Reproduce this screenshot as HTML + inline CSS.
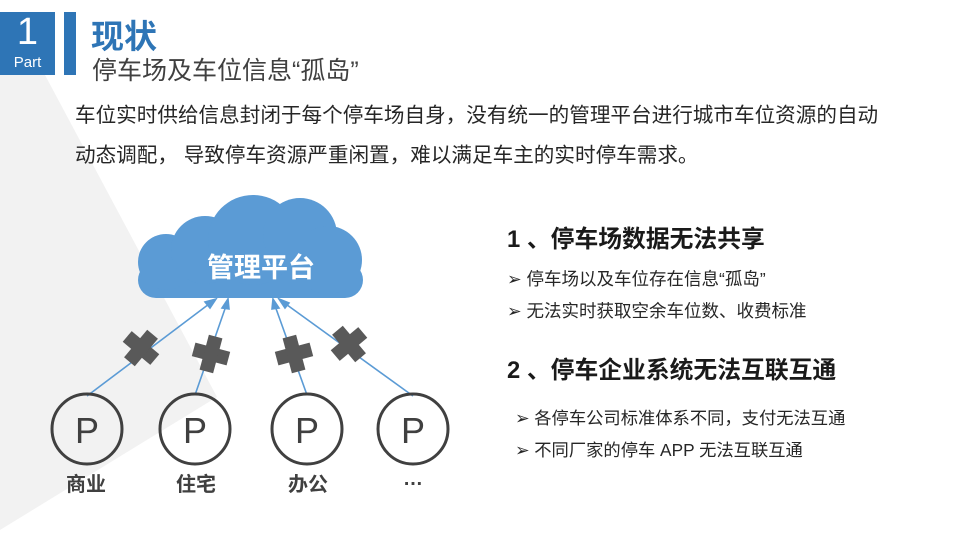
<!DOCTYPE html>
<html><head><meta charset="utf-8"><style>
body{margin:0}
#c{position:relative;width:960px;height:540px;overflow:hidden;background:#fff;font-family:"Liberation Sans","Noto Sans CJK SC",sans-serif;color:#262626}
.t{position:absolute;white-space:nowrap}
</style></head><body><div id="c">
<svg width="960" height="540" style="position:absolute;left:0;top:0">
<polygon points="0,70 45,75 217,397 0,530" fill="#f2f2f2"/>
<rect x="0" y="12" width="55" height="63" fill="#2e75b6"/>
<rect x="64" y="12" width="12" height="63" fill="#2e75b6"/>
<g fill="#5b9bd5">
<rect x="138" y="262" width="225" height="36" rx="18"/>
<circle cx="166" cy="262" r="28"/>
<circle cx="205" cy="250" r="34"/>
<circle cx="253" cy="240" r="45"/>
<circle cx="300" cy="235" r="37"/>
<circle cx="328" cy="260" r="34"/>
</g>
<g stroke="#5b9bd5" stroke-width="1.6" fill="#5b9bd5">
<line x1="87" y1="396" x2="213" y2="301"/><polygon points="216,299 205,302 210,308"/>
<line x1="195" y1="395" x2="227" y2="303"/><polygon points="228,299 222,308 229,309"/>
<line x1="307" y1="395" x2="274" y2="303"/><polygon points="273,299 272,309 279,308"/>
<line x1="413" y1="396" x2="283" y2="302"/><polygon points="279,299 285,308 289,303"/>
</g>
<g fill="#595959">
<g transform="translate(141,348) rotate(40)"><rect x="-18" y="-7" width="36" height="14"/><rect x="-7" y="-18" width="14" height="36"/></g>
<g transform="translate(211,354) rotate(15)"><rect x="-18" y="-7" width="36" height="14"/><rect x="-7" y="-18" width="14" height="36"/></g>
<g transform="translate(294,354) rotate(-15)"><rect x="-18" y="-7" width="36" height="14"/><rect x="-7" y="-18" width="14" height="36"/></g>
<g transform="translate(349,344) rotate(-40)"><rect x="-18" y="-7" width="36" height="14"/><rect x="-7" y="-18" width="14" height="36"/></g>
</g>
<g fill="none" stroke="#404040" stroke-width="3">
<circle cx="87" cy="429" r="35"/><circle cx="195" cy="429" r="35"/><circle cx="307" cy="429" r="35"/><circle cx="413" cy="429" r="35"/>
</g>
<g font-family="Liberation Sans,sans-serif" font-size="36" fill="#404040" text-anchor="middle">
<text x="87" y="443">P</text><text x="195" y="443">P</text><text x="307" y="443">P</text><text x="413" y="443">P</text>
</g>
</svg>
<div class="t" style="left:0;top:12px;width:55px;text-align:center;color:#fff;font-size:38px;line-height:40px">1</div>
<div class="t" style="left:0;top:54px;width:55px;text-align:center;color:#fff;font-size:15px">Part</div>
<div class="t" style="left:91px;top:10px;font-size:33px;font-weight:bold;color:#2e75b6">现状</div>
<div class="t" style="left:92px;top:51px;font-size:25px;color:#404040">停车场及车位信息“孤岛”</div>
<div class="t" style="left:75px;top:96px;font-size:20.6px;line-height:40px;color:#262626">车位实时供给信息封闭于每个停车场自身，没有统一的管理平台进行城市车位资源的自动<br>动态调配， 导致停车资源严重闲置，难以满足车主的实时停车需求。</div>
<div class="t" style="left:207px;top:246px;font-size:27px;font-weight:bold;color:#fff">管理平台</div>
<div class="t" style="left:66px;top:468px;font-size:20px;font-weight:bold;color:#404040">商业</div>
<div class="t" style="left:176px;top:468px;font-size:20px;font-weight:bold;color:#404040">住宅</div>
<div class="t" style="left:288px;top:468px;font-size:20px;font-weight:bold;color:#404040">办公</div>
<div class="t" style="left:403px;top:468px;font-size:20px;font-weight:bold;color:#404040">…</div>
<div class="t" style="left:507px;top:219px;font-size:23.8px;font-weight:bold;color:#1a1a1a">1 、停车场数据无法共享</div>
<div class="t" style="left:507px;top:266px;font-size:17.5px;color:#262626">➢ 停车场以及车位存在信息“孤岛”</div>
<div class="t" style="left:507px;top:298px;font-size:17.5px;color:#262626">➢ 无法实时获取空余车位数、收费标准</div>
<div class="t" style="left:507px;top:350px;font-size:23.8px;font-weight:bold;color:#1a1a1a">2 、停车企业系统无法互联互通</div>
<div class="t" style="left:515px;top:404px;font-size:17.3px;color:#262626">➢ 各停车公司标准体系不同，支付无法互通</div>
<div class="t" style="left:515px;top:436px;font-size:17.3px;color:#262626">➢ 不同厂家的停车 APP 无法互联互通</div>
</div></body></html>
